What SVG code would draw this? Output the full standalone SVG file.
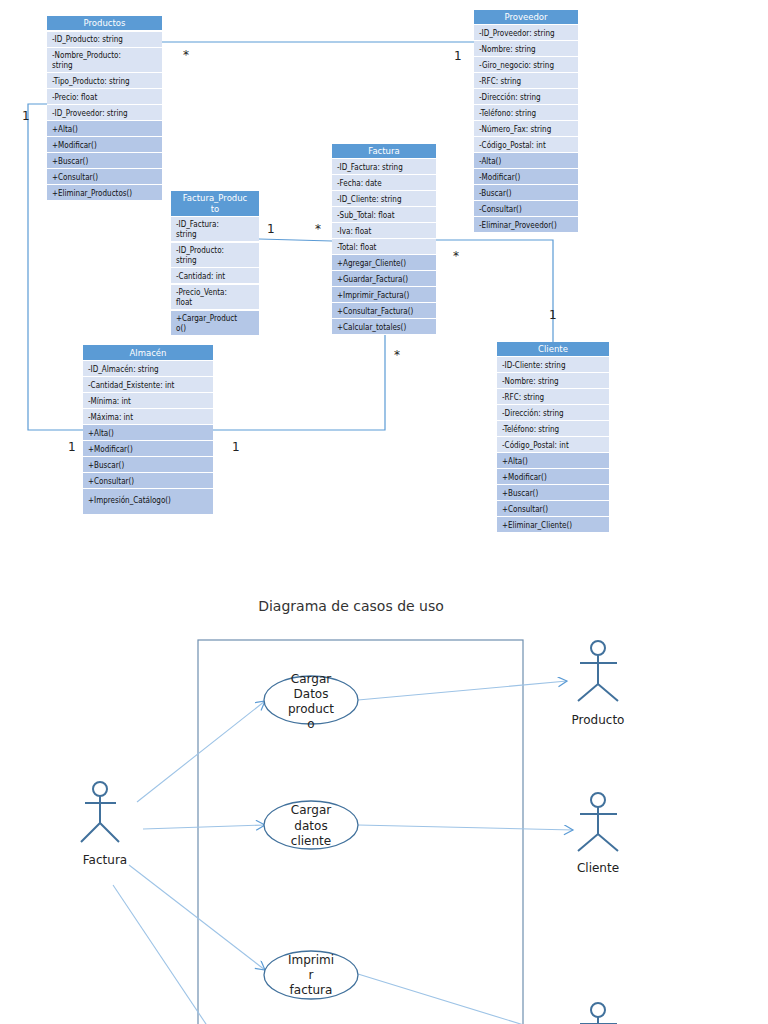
<svg xmlns="http://www.w3.org/2000/svg" width="768" height="1024" viewBox="0 0 768 1024">
<defs>
<style>
.h{fill:#5b9bd5}
.a{fill:#dae3f3}
.m{fill:#b4c7e7}
.ht{font-family:"DejaVu Sans",sans-serif;font-size:8.5px;fill:#fff;text-anchor:middle}
.t{font-family:"DejaVu Sans Condensed","DejaVu Sans",sans-serif;font-size:8px;fill:#111}
.c{stroke:#5b9bd5;stroke-width:1.2;fill:none}
.l{font-family:"DejaVu Sans",sans-serif;font-size:12px;fill:#222}
.u{font-family:"DejaVu Sans",sans-serif;font-size:12px;fill:#222;text-anchor:middle}
.e{fill:#fff;stroke:#41719c;stroke-width:1.3}
.act{stroke:#41719c;stroke-width:2;fill:none}
.ar{stroke:#9dc3e6;stroke-width:1.1;fill:none}
</style>
<marker id="oa" markerWidth="12" markerHeight="12" refX="10" refY="5" orient="auto" markerUnits="userSpaceOnUse"><path d="M1,0 L10,5 L1,10" fill="none" stroke="#5b9bd5" stroke-width="1.2"/></marker>
</defs>
<rect width="768" height="1024" fill="#fff"/>

<g id="connectors">
<path class="c" d="M162,42 H474"/>
<path class="c" d="M47,104 H28 V430 H83"/>
<path class="c" d="M213,430 H385 V335"/>
<path class="c" d="M259,239 L332,241"/>
<path class="c" d="M436,240 H553 V342"/>
<g class="l">
<text x="183" y="59">*</text><text x="454" y="60">1</text>
<text x="22" y="120">1</text><text x="68" y="451">1</text>
<text x="232" y="451">1</text><text x="394" y="359">*</text>
<text x="267" y="233">1</text><text x="315" y="233">*</text>
<text x="453" y="260">*</text><text x="549" y="319">1</text>
</g>
</g>

<g id="productos">
<rect class="h" x="47" y="16" width="115" height="14"/><text class="ht" x="104.5" y="26">Productos</text>
<rect class="a" x="47" y="32" width="115" height="15"/><text class="t" x="52" y="42">-ID_Producto: string</text>
<rect class="a" x="47" y="48" width="115" height="24"/><text class="t" x="52" y="58">-Nombre_Producto:</text><text class="t" x="52" y="68">string</text>
<rect class="a" x="47" y="73" width="115" height="15"/><text class="t" x="52" y="84">-Tipo_Producto: string</text>
<rect class="a" x="47" y="89" width="115" height="15"/><text class="t" x="52" y="100">-Precio: float</text>
<rect class="a" x="47" y="105" width="115" height="15"/><text class="t" x="52" y="116">-ID_Proveedor: string</text>
<rect class="m" x="47" y="121" width="115" height="15"/><text class="t" x="52" y="132">+Alta()</text>
<rect class="m" x="47" y="137" width="115" height="15"/><text class="t" x="52" y="148">+Modificar()</text>
<rect class="m" x="47" y="153" width="115" height="15"/><text class="t" x="52" y="164">+Buscar()</text>
<rect class="m" x="47" y="169" width="115" height="15"/><text class="t" x="52" y="180">+Consultar()</text>
<rect class="m" x="47" y="185" width="115" height="15"/><text class="t" x="52" y="196">+Eliminar_Productos()</text>
</g>

<g id="proveedor">
<rect class="h" x="474" y="10" width="104" height="14"/><text class="ht" x="526" y="20">Proveedor</text>
<rect class="a" x="474" y="25" width="104" height="15"/><text class="t" x="479" y="36">-ID_Proveedor: string</text>
<rect class="a" x="474" y="41" width="104" height="15"/><text class="t" x="479" y="52">-Nombre: string</text>
<rect class="a" x="474" y="57" width="104" height="15"/><text class="t" x="479" y="68">-Giro_negocio: string</text>
<rect class="a" x="474" y="73" width="104" height="15"/><text class="t" x="479" y="84">-RFC: string</text>
<rect class="a" x="474" y="89" width="104" height="15"/><text class="t" x="479" y="100">-Dirección: string</text>
<rect class="a" x="474" y="105" width="104" height="15"/><text class="t" x="479" y="116">-Teléfono: string</text>
<rect class="a" x="474" y="121" width="104" height="15"/><text class="t" x="479" y="132">-Número_Fax: string</text>
<rect class="a" x="474" y="137" width="104" height="15"/><text class="t" x="479" y="148">-Código_Postal: int</text>
<rect class="m" x="474" y="153" width="104" height="15"/><text class="t" x="479" y="164">-Alta()</text>
<rect class="m" x="474" y="169" width="104" height="15"/><text class="t" x="479" y="180">-Modificar()</text>
<rect class="m" x="474" y="185" width="104" height="15"/><text class="t" x="479" y="196">-Buscar()</text>
<rect class="m" x="474" y="201" width="104" height="15"/><text class="t" x="479" y="212">-Consultar()</text>
<rect class="m" x="474" y="217" width="104" height="15"/><text class="t" x="479" y="228">-Eliminar_Proveedor()</text>
</g>

<g id="factura">
<rect class="h" x="332" y="144" width="104" height="14"/><text class="ht" x="384" y="154">Factura</text>
<rect class="a" x="332" y="159" width="104" height="15"/><text class="t" x="337" y="170">-ID_Factura: string</text>
<rect class="a" x="332" y="175" width="104" height="15"/><text class="t" x="337" y="186">-Fecha: date</text>
<rect class="a" x="332" y="191" width="104" height="15"/><text class="t" x="337" y="202">-ID_Cliente: string</text>
<rect class="a" x="332" y="207" width="104" height="15"/><text class="t" x="337" y="218">-Sub_Total: float</text>
<rect class="a" x="332" y="223" width="104" height="15"/><text class="t" x="337" y="234">-Iva: float</text>
<rect class="a" x="332" y="239" width="104" height="15"/><text class="t" x="337" y="250">-Total: float</text>
<rect class="m" x="332" y="255" width="104" height="15"/><text class="t" x="337" y="266">+Agregar_Cliente()</text>
<rect class="m" x="332" y="271" width="104" height="15"/><text class="t" x="337" y="282">+Guardar_Factura()</text>
<rect class="m" x="332" y="287" width="104" height="15"/><text class="t" x="337" y="298">+Imprimir_Factura()</text>
<rect class="m" x="332" y="303" width="104" height="15"/><text class="t" x="337" y="314">+Consultar_Factura()</text>
<rect class="m" x="332" y="319" width="104" height="15"/><text class="t" x="337" y="330">+Calcular_totales()</text>
</g>

<g id="factura_producto">
<rect class="h" x="171" y="191" width="88" height="25"/><text class="ht" x="215" y="201">Factura_Produc</text><text class="ht" x="215" y="212">to</text>
<rect class="a" x="171" y="217" width="88" height="24"/><text class="t" x="176" y="227">-ID_Factura:</text><text class="t" x="176" y="237">string</text>
<rect class="a" x="171" y="243" width="88" height="24"/><text class="t" x="176" y="253">-ID_Producto:</text><text class="t" x="176" y="263">string</text>
<rect class="a" x="171" y="268" width="88" height="15"/><text class="t" x="176" y="279">-Cantidad: int</text>
<rect class="a" x="171" y="285" width="88" height="24"/><text class="t" x="176" y="295">-Precio_Venta:</text><text class="t" x="176" y="305">float</text>
<rect class="m" x="171" y="311" width="88" height="24"/><text class="t" x="176" y="321">+Cargar_Product</text><text class="t" x="176" y="331">o()</text>
</g>

<g id="almacen">
<rect class="h" x="83" y="345" width="130" height="15"/><text class="ht" x="148" y="356">Almacén</text>
<rect class="a" x="83" y="361" width="130" height="15"/><text class="t" x="88" y="372">-ID_Almacén: string</text>
<rect class="a" x="83" y="377" width="130" height="15"/><text class="t" x="88" y="388">-Cantidad_Existente: int</text>
<rect class="a" x="83" y="393" width="130" height="15"/><text class="t" x="88" y="404">-Mínima: int</text>
<rect class="a" x="83" y="409" width="130" height="15"/><text class="t" x="88" y="420">-Máxima: int</text>
<rect class="m" x="83" y="425" width="130" height="15"/><text class="t" x="88" y="436">+Alta()</text>
<rect class="m" x="83" y="441" width="130" height="15"/><text class="t" x="88" y="452">+Modificar()</text>
<rect class="m" x="83" y="457" width="130" height="15"/><text class="t" x="88" y="468">+Buscar()</text>
<rect class="m" x="83" y="473" width="130" height="15"/><text class="t" x="88" y="484">+Consultar()</text>
<rect class="m" x="83" y="489" width="130" height="25"/><text class="t" x="88" y="503">+Impresión_Catálogo()</text>
</g>

<g id="cliente">
<rect class="h" x="497" y="342" width="112" height="14"/><text class="ht" x="553" y="352">Cliente</text>
<rect class="a" x="497" y="357" width="112" height="15"/><text class="t" x="502" y="368">-ID-Cliente: string</text>
<rect class="a" x="497" y="373" width="112" height="15"/><text class="t" x="502" y="384">-Nombre: string</text>
<rect class="a" x="497" y="389" width="112" height="15"/><text class="t" x="502" y="400">-RFC: string</text>
<rect class="a" x="497" y="405" width="112" height="15"/><text class="t" x="502" y="416">-Dirección: string</text>
<rect class="a" x="497" y="421" width="112" height="15"/><text class="t" x="502" y="432">-Teléfono: string</text>
<rect class="a" x="497" y="437" width="112" height="15"/><text class="t" x="502" y="448">-Código_Postal: int</text>
<rect class="m" x="497" y="453" width="112" height="15"/><text class="t" x="502" y="464">+Alta()</text>
<rect class="m" x="497" y="469" width="112" height="15"/><text class="t" x="502" y="480">+Modificar()</text>
<rect class="m" x="497" y="485" width="112" height="15"/><text class="t" x="502" y="496">+Buscar()</text>
<rect class="m" x="497" y="501" width="112" height="15"/><text class="t" x="502" y="512">+Consultar()</text>
<rect class="m" x="497" y="517" width="112" height="15"/><text class="t" x="502" y="528">+Eliminar_Cliente()</text>
</g>

<text x="351" y="611" font-family="DejaVu Sans,sans-serif" font-size="14" fill="#333" text-anchor="middle">Diagrama de casos de uso</text>
<rect x="198" y="640" width="325" height="400" fill="none" stroke="#6f8fb0" stroke-width="1.2"/>

<g id="uc_connectors">
<path class="ar" d="M137,802 L265,701" marker-end="url(#oa)"/>
<path class="ar" d="M143,829 L265,825" marker-end="url(#oa)"/>
<path class="ar" d="M129,865 L265,970" marker-end="url(#oa)"/>
<path class="ar" d="M113,885 L210,1030"/>
<path class="ar" d="M358,700 L567,681" marker-end="url(#oa)"/>
<path class="ar" d="M358,825 L573,830" marker-end="url(#oa)"/>
<path class="ar" d="M358,974 L540,1030"/>
</g>

<g id="uc1"><ellipse class="e" cx="311" cy="700" rx="47" ry="24"/>
<text class="u" x="311" y="683">Cargar</text><text class="u" x="311" y="698">Datos</text><text class="u" x="311" y="713">product</text><text class="u" x="311" y="728">o</text></g>
<g id="uc2"><ellipse class="e" cx="311" cy="825" rx="47" ry="24"/>
<text class="u" x="311" y="814">Cargar</text><text class="u" x="311" y="830">datos</text><text class="u" x="311" y="845">cliente</text></g>
<g id="uc3"><ellipse class="e" cx="311" cy="975" rx="47" ry="24"/>
<text class="u" x="311" y="964">Imprimi</text><text class="u" x="311" y="979">r</text><text class="u" x="311" y="994">factura</text></g>

<g id="actor_factura"><circle class="act" cx="100" cy="789" r="7" stroke-width="1.5"/>
<path class="act" d="M100,796 V823 M85,803 H116 M81,842 L100,823 L119,842"/>
<text class="u" x="105" y="864">Factura</text></g>
<g id="actor_producto"><circle class="act" cx="598" cy="648" r="7" stroke-width="1.5"/>
<path class="act" d="M598,655 V684 M580,663 H617 M578,701 L598,684 L618,701"/>
<text class="u" x="598" y="724">Producto</text></g>
<g id="actor_cliente"><circle class="act" cx="598" cy="800" r="7" stroke-width="1.5"/>
<path class="act" d="M598,807 V834 M580,814 H617 M578,851 L598,834 L618,851"/>
<text class="u" x="598" y="872">Cliente</text></g>
<g id="actor_3"><circle class="act" cx="598" cy="1010" r="7" stroke-width="1.5"/>
<path class="act" d="M598,1017 V1030 M580,1024 H617"/></g>
</svg>
